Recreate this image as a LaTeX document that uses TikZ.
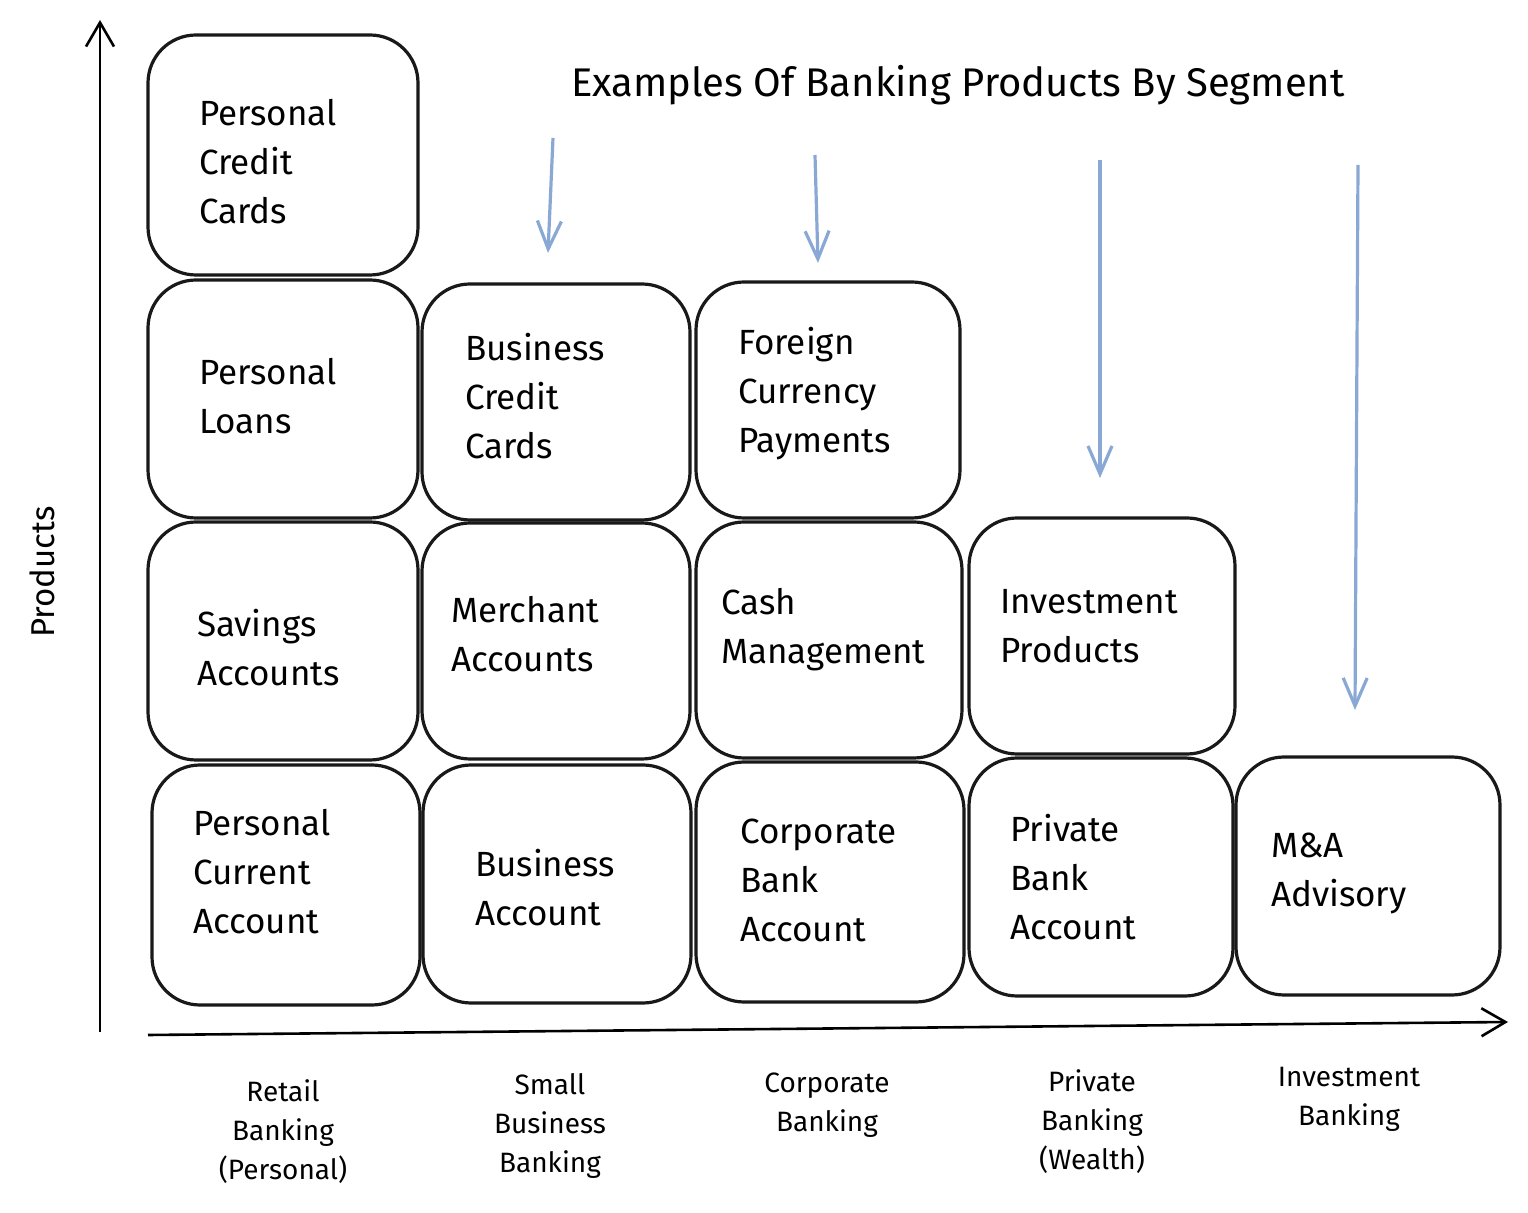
\documentclass[tikz,border=0pt]{standalone}
\usepackage{fontspec}
\setmainfont{Fira Sans}
\usetikzlibrary{arrows.meta}
\definecolor{arrblue}{HTML}{8AA8D4}
\begin{document}
\begin{tikzpicture}[x=0.5pt,y=-0.5pt,
  box/.style={draw=black!90,line width=1.6pt,rounded corners=24pt},
  txt/.style={anchor=west,align=left,font=\fontsize{17.5}{24.5}\selectfont},
  lbl/.style={align=center,font=\fontsize{14}{19.5}\selectfont},
  ax/.style={line width=1.3pt,-{Straight Barb[length=12pt,width=14pt,line width=1.3pt]}},
  blu/.style={draw=arrblue,line width=1.6pt,-{Straight Barb[length=14pt,width=12pt,line width=1.6pt]}}]
\useasboundingbox (0,0) rectangle (1528,1213);
% boxes
\node[box,minimum width=135pt,minimum height=120pt] (b11) at (283,155) {};
\node[box,minimum width=135pt,minimum height=119pt] (b12) at (283,399) {};
\node[box,minimum width=135pt,minimum height=119pt] (b13) at (283,641) {};
\node[box,minimum width=134pt,minimum height=120pt] (b14) at (286,885) {};
\node[box,minimum width=134pt,minimum height=118pt] (b22) at (556,402) {};
\node[box,minimum width=134pt,minimum height=118pt] (b23) at (556,641) {};
\node[box,minimum width=134pt,minimum height=119pt] (b24) at (557,884) {};
\node[box,minimum width=132pt,minimum height=118pt] (b32) at (828,400) {};
\node[box,minimum width=133pt,minimum height=118pt] (b33) at (829,640) {};
\node[box,minimum width=134pt,minimum height=120pt] (b34) at (830,882) {};
\node[box,minimum width=133pt,minimum height=118pt] (b43) at (1102,636) {};
\node[box,minimum width=132pt,minimum height=119pt] (b44) at (1101,877) {};
\node[box,minimum width=132pt,minimum height=119pt] (b54) at (1368,876) {};
% texts
\node[txt] (t11) at (192,162) {Personal\\Credit\\Cards};
\node[txt] (t12) at (192,396) {Personal\\Loans};
\node[txt] (t13) at (190,648) {Savings\\Accounts};
\node[txt] (t14) at (186,872) {Personal\\Current\\Account};
\node[txt] (t22) at (458,396) {Business\\Credit\\Cards};
\node[txt] (t23) at (444,634) {Merchant\\Accounts};
\node[txt] (t24) at (468,888) {Business\\Account};
\node[txt] (t32) at (731,394) {Foreign\\Currency\\Payments};
\node[txt] (t33) at (714,630) {Cash\\Management};
\node[txt] (t34) at (733,880) {Corporate\\Bank\\Account};
\node[txt] (t43) at (993,626) {Investment\\Products};
\node[txt] (t44) at (1003,877) {Private\\Bank\\Account};
\node[txt] (t54) at (1264,873) {M\&A\\Advisory};
% axes
\coordinate (yo) at (100,1032); \coordinate (yt) at (100,20);
\coordinate (xo) at (148,1035); \coordinate (xt) at (1508,1022);
\draw[ax] (yo) -- (yt);
\draw[ax] (xo) -- (xt);
\node[rotate=90,font=\fontsize{16.5}{18}\selectfont] (py) at (42,572) {Products};
\node[font=\fontsize{20}{22}\selectfont] (title) at (958,85) {Examples Of Banking Products By Segment};
% blue arrows
\coordinate (a1s) at (553,138); \coordinate (a1e) at (548,253);
\coordinate (a2s) at (815,155); \coordinate (a2e) at (818,263);
\coordinate (a3s) at (1100,160); \coordinate (a3e) at (1100,478);
\coordinate (a4s) at (1358,165); \coordinate (a4e) at (1355,710);
\draw[blu] (a1s) -- (a1e);
\draw[blu] (a2s) -- (a2e);
\draw[blu] (a3s) -- (a3e);
\draw[blu] (a4s) -- (a4e);
% axis labels
\node[lbl] (l1) at (283,1132) {Retail\\Banking\\(Personal)};
\node[lbl] (l2) at (550,1126) {Small\\Business\\Banking};
\node[lbl] (l3) at (827,1105) {Corporate\\Banking};
\node[lbl] (l4) at (1092,1122) {Private\\Banking\\(Wealth)};
\node[lbl] (l5) at (1349,1099) {Investment\\Banking};
\end{tikzpicture}
\end{document}
